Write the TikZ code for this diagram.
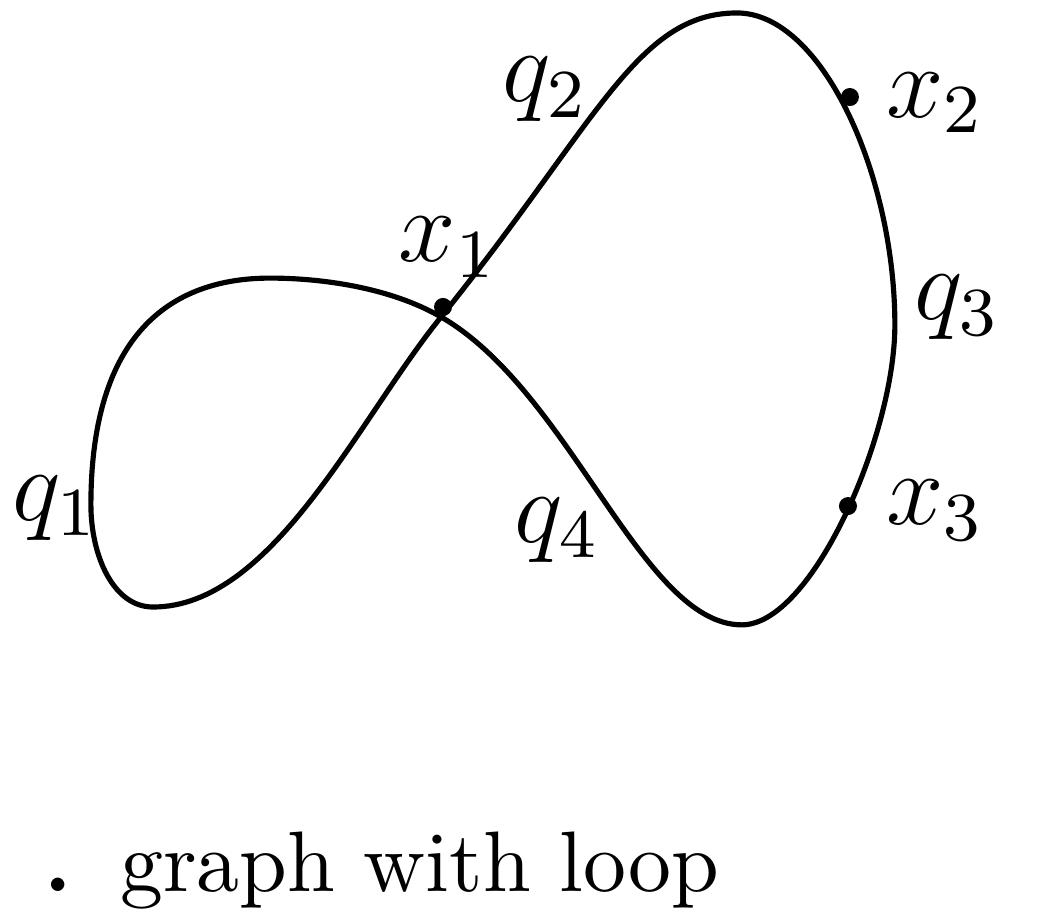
\documentclass[tikz,border=0pt]{standalone}
\usepackage{amsmath}
\tikzset{pt/.style={circle, fill, inner sep=0pt, minimum size=2.1pt},
  lbl/.style={anchor=base west, inner sep=0pt, font=\large}}

\begin{document}
\begin{tikzpicture}
  \useasboundingbox (0,0) rectangle (4.256,3.781);
  % figure eight, crossing at (c)
  \coordinate (c) at (1.805,2.484);
  \draw[line width=0.6pt] (c)
    .. controls (2.447,3.282) and (2.607,3.728) .. (3.016,3.728)
    .. controls (3.364,3.728) and (3.662,3.065) .. (3.662,2.451)
    .. controls (3.662,2.001) and (3.323,1.224) .. (3.036,1.224)
    .. controls (2.627,1.224) and (2.337,2.177) .. (c)
    .. controls (1.592,2.607) and (1.309,2.643) .. (1.105,2.643)
    .. controls (0.696,2.643) and (0.372,2.410) .. (0.372,1.715)
    .. controls (0.372,1.510) and (0.462,1.297) .. (0.626,1.297)
    .. controls (1.117,1.297) and (1.469,2.071) .. (c);
  \node(x1) [pt] at (1.813,2.525) {};
  \node(x2) [pt] at (3.478,3.384) {};
  \node(x3) [pt] at (3.470,1.710) {};
  \node(lx1) [lbl] at (1.625,2.709) {$x_1$};
  \node(lx2) [lbl] at (3.621,3.302) {$x_2$};
  \node(lx3) [lbl] at (3.621,1.633) {$x_3$};
  \node(q1) [lbl] at (0.045,1.653) {$q_1$};
  \node(q2) [lbl] at (2.050,3.364) {$q_2$};
  \node(q3) [lbl] at (3.736,2.472) {$q_3$};
  \node(q4) [lbl] at (2.099,1.563) {$q_4$};
  \node(cap) [anchor=base west, inner sep=0pt] at (0.176,0.131) {\textbf{.}\hspace{5.6pt}graph with loop};
\end{tikzpicture}
\end{document}
